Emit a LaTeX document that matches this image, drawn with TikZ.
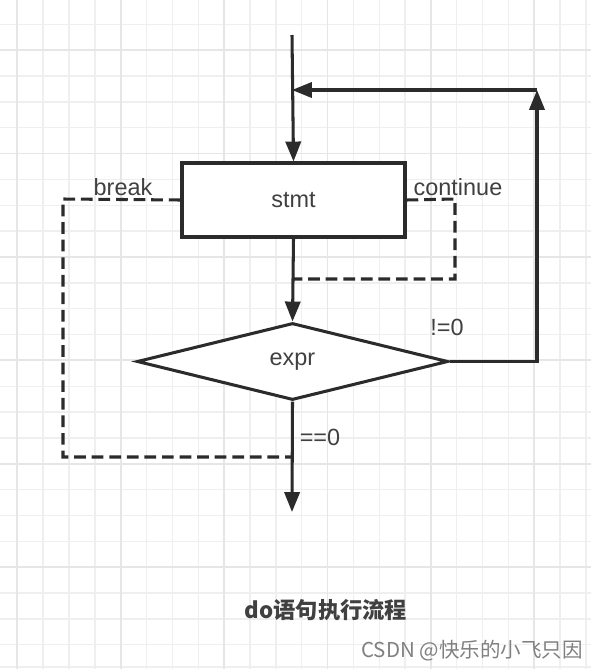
\documentclass[tikz,border=0pt]{standalone}
\usepackage{fontspec}
\setmainfont{Liberation Sans}
\newfontfamily\cjk{Noto Sans CJK SC}
\usepackage{xcolor}
\usetikzlibrary{shapes.geometric,arrows.meta}

\definecolor{ink}{HTML}{2B2B2B}
\definecolor{txt}{HTML}{404040}
\definecolor{gridc}{HTML}{EFEFEF}
\definecolor{gridm}{HTML}{E6E6E6}

\begin{document}
\begin{tikzpicture}[x=0.03cm, y=-0.03cm,
            gridline/.style={draw=gridc, line width=1.2pt},
            gridmajor/.style={draw=gridm, line width=1.6pt},
            flow/.style={draw=ink, line width=2.6pt, -{Triangle[length=17pt,width=13pt]}},
            jump/.style={draw=ink, line width=2.6pt, dash pattern=on 10pt off 5pt},
            stepbox/.style={draw=ink, line width=2.6pt, fill=white, minimum width=6.69cm, minimum height=2.22cm, inner sep=0pt},
            test/.style={shape=diamond, draw=ink, line width=2.6pt, fill=white, aspect=4.04, minimum width=9.33cm, minimum height=2.31cm, inner sep=0pt},
            lbl/.style={text=txt, font=\fontsize{20}{24}\selectfont, inner sep=0pt}]
        \useasboundingbox (0,0) rectangle (591,669);
        \fill[white] (0,0) rectangle (591,669);

        % grid paper
        \foreach \i in {0,...,22}
            \draw[gridline] ({17.3+25.85*\i},0) -- ({17.3+25.85*\i},669);
        \foreach \i in {0,...,24}
            \draw[gridline] (0,{24.3+25.85*\i}) -- (591,{24.3+25.85*\i});
        \draw[gridline] (0,667) -- (591,667);
        \foreach \i in {0,4,...,20}
            \draw[gridmajor] ({17.3+25.85*\i},0) -- ({17.3+25.85*\i},669);
        \foreach \i in {1,5,...,21}
            \draw[gridmajor] (0,{24.3+25.85*\i}) -- (591,{24.3+25.85*\i});

        \coordinate (start) at (292,35);
        \coordinate (join) at (292,90);
        \coordinate (loop) at (537,90);
        \coordinate (out) at (292,512);
        \coordinate (brk) at (63,199);
        \coordinate (cnt) at (455,199);

        \node[stepbox] (stmt) at (293.5,200) {};
        \node[test] (expr) at (292.5,361.5) {};
        \node[lbl] (stmttext) at (stmt.center) {stmt};
        \node[lbl] (exprtext) at (expr.center) {expr};

        \draw[flow] (start) -- (stmt.north);
        \draw[flow] (stmt.south) -- (expr.north);
        \draw[flow] (expr.south) -- (out);
        \draw[flow] (expr.east) -| (loop);
        \draw[flow] (loop) -- (join);

        \draw[jump] (stmt.west) -- (brk) |- (out |- 0,457);
        \draw[jump] (stmt.east) -- (cnt) |- (294,279);

        \node[lbl] (breaklbl) at (123,187) {break};
        \node[lbl] (contlbl) at (458,187) {continue};
        \node[lbl] (nelbl) at (447,327) {!=0};
        \node[lbl] (eqlbl) at (320,437) {==0};

        \node[text=txt, font=\cjk\bfseries\fontsize{19}{23}\selectfont, inner sep=0pt] (title) at (326,610) {do语句执行流程};
        \node[text=gray, font=\cjk\fontsize{17.5}{21}\selectfont, inner sep=0pt] (mark) at (472,651) {CSDN @快乐的小飞只因};
    \end{tikzpicture}
\end{document}
